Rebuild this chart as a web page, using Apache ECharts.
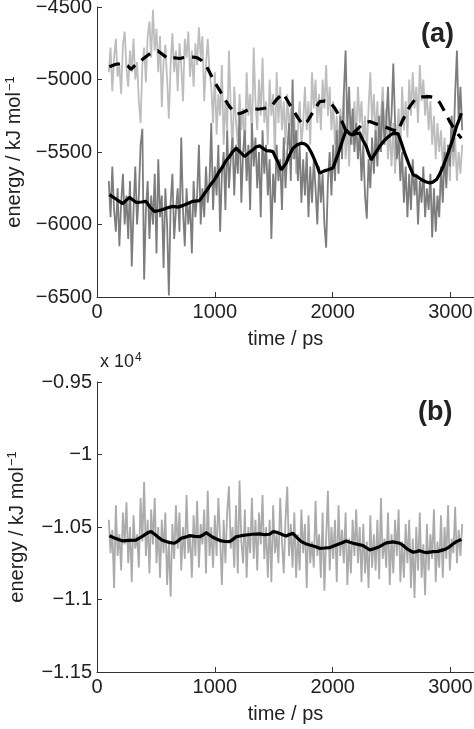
<!DOCTYPE html>
<html>
<head>
  <meta charset="utf-8">
  <title>energy vs time</title>
  <script src="https://cdn.jsdelivr.net/npm/echarts@6/dist/echarts.min.js"></script>
  <style>
    html, body { margin: 0; padding: 0; background: #fff; }
    #chart { width: 474px; height: 729px; }
  </style>
</head>
<body>
<div id="chart"></div>
<script type="text/javascript">
// sampling times of the raw traces (ps)
var rawTime = [100,115,130,145,160,175,190,205,220,235, 250,265,280,295,310,325,340,355,370,385,
  400,415,430,445,460,475,490,505,520,535, 550,565,580,595,610,625,640,655,670,685,
  700,715,730,745,760,775,790,805,820,835, 850,865,880,895,910,925,940,955,970,985, 1000,
  1015,1030,1045,1060,1075,1090,1105,1120,1135,1150, 1165,1180,1195,1210,1225,1240,1255,1270,1285,1300,
  1315,1330,1345,1360,1375,1390,1405,1420,1435,1450, 1465,1480,1495,1510,1525,1540,1555,1570,1585,1600,
  1615,1630,1645,1660,1675,1690,1705,1720,1735,1750, 1765,1780,1795,1810,1825,1840,1855,1870,1885,1900,
  1915,1930,1945,1960,1975,1990,2005,2020,2035,2050, 2065,2080,2095,2110,2125,2140,2155,2170,2185,2200,
  2215,2230,2245,2260,2275,2290,2305,2320,2335,2350, 2365,2380,2395,2410,2425,2440,2455,2470,2485,2500,
  2515,2530,2545,2560,2575,2590,2605,2620,2635,2650, 2665,2680,2695,2710,2725,2740,2755,2770,2785,2800,
  2815,2830,2845,2860,2875,2890,2905,2920,2935,2950, 2965,2980,2995,3010,3025,3040,3055,3070,3085,3100];

// panel (a) light grey trace
var lightA = [-4950,-4780,-5080,-4850,-4720,-4980,-4900,-5100,-4760,-4670, -4920,-5050,-4800,-4950,-4720,-5000,-4880,-5150,-5300,-4900,
  -4780,-5020,-4700,-4600,-4850,-4520,-4800,-4650,-4950,-4700, -5190,-4880,-4760,-5000,-5270,-4900,-4680,-4950,-4800,-5080,
  -4750,-4900,-5150,-4720,-4850,-4670,-4980,-4800,-5050,-4750, -4900,-4640,-4850,-4700,-5150,-4900,-4720,-4950,-5050,-5300, -4950,
  -5380,-5100,-5250,-4900,-5450,-5150,-5350,-4800,-5200,-5500, -5050,-5300,-5450,-5100,-5350,-5200,-5500,-4950,-5250,-5100,
  -5400,-4780,-5150,-5350,-5000,-5250,-4850,-5300,-5150,-5450, -5000,-5250,-5100,-5550,-4950,-5300,-5050,-5350,-5150,-5450,
  -5100,-5350,-5200,-5550,-5250,-5650,-5350,-5150,-5450,-5300, -5050,-5350,-5150,-5450,-4950,-5200,-5000,-5300,-5100,-5350,
  -5000,-5200,-4900,-5250,-5050,-5350,-5150,-5450,-5250,-5500, -5200,-5400,-5100,-5550,-5300,-5600,-5250,-5450,-5150,-5400,
  -5050,-5300,-5150,-5450,-5250,-5500,-5200,-4950,-5300,-5100, -5400,-5150,-5500,-5250,-5050,-5350,-5200,-5550,-5350,-5600,
  -5300,-5650,-5400,-5200,-5500,-5050,-5350,-5150,-5400,-5000, -5250,-4950,-5200,-5050,-5300,-4900,-5150,-5000,-5250,-5100,
  -5350,-5150,-5450,-5250,-5550,-5300,-5500,-5350,-5600,-5400, -5650,-5450,-5700,-5350,-5600,-5400,-5700,-5500,-5650,-5450];

// panel (a) dark grey trace
var darkA = [-5700,-5950,-5600,-5900,-6050,-5750,-6150,-5850,-5650,-6000, -5800,-6100,-5700,-6290,-5900,-5600,-6000,-5800,-5450,-5340,
  -6380,-5900,-5700,-6100,-5800,-6000,-5650,-6200,-5550,-5950, -5800,-6300,-5750,-6000,-6490,-5850,-5650,-6100,-5900,-5750,
  -6050,-5400,-5900,-6150,-5750,-6000,-5850,-6200,-5700,-5950, -5800,-5450,-6000,-5750,-5950,-5600,-5850,-5700,-5300,-5900, -5600,
  -5800,-5450,-6050,-5650,-5500,-5900,-5350,-5750,-5550,-5400, -5800,-5450,-5650,-5250,-5850,-5500,-5350,-5700,-5450,-5900,
  -5300,-5600,-5400,-5750,-5500,-5950,-5350,-5650,-5450,-5800, -5550,-6100,-5650,-5850,-5450,-5700,-5550,-5900,-5400,-5750,
  -5500,-5300,-5700,-5000,-5550,-5350,-5700,-5450,-5850,-5550, -5800,-5500,-5950,-5600,-5850,-5550,-5750,-6000,-5600,-5850,
  -5650,-6000,-6160,-5700,-5500,-5800,-5450,-5700,-5350,-5650, -5250,-5550,-5100,-4800,-5350,-5050,-5450,-5200,-5500,-5300,
  -5550,-5350,-5700,-5450,-5800,-5960,-5550,-5750,-5400,-5650, -5350,-5600,-5250,-5500,-5150,-5450,-5300,-5050,-5400,-5250,
  -4890,-5300,-5550,-5400,-5700,-5500,-5850,-5600,-5950,-5650, -5900,-5550,-5800,-5650,-6000,-5700,-5850,-5600,-5950,-5750,
  -5900,-5650,-6090,-5750,-6050,-5800,-5950,-5600,-5850,-5500, -5750,-5450,-5600,-5250,-5500,-5100,-4800,-5300,-5050,-5350];

// panel (a) running averages
var dashTime = [105,160,218,260,289,320,360,420,473,515,560,615,660,700,760,813,850,884,930,969,1000,1040,1080,1125,1181,1230,1280,1323,1365,1408,1450,1479,1521,1578,1620,1663,1710,1748,1785,1819,1855,1890,1930,1975,2020,2059,2090,2116,2145,2173,2215,2258,2315,2382,2458,2500,2555,2585,2620,2654,2711,2760,2824,2870,2910,2952,2994,3053,3093];
var dashA = [-4912,-4895,-4889,-4905,-4930,-4905,-4878,-4840,-4809,-4802,-4830,-4862,-4850,-4855,-4845,-4845,-4850,-4866,-4910,-4970,-5020,-5073,-5130,-5187,-5240,-5230,-5210,-5198,-5205,-5200,-5195,-5187,-5141,-5095,-5150,-5210,-5270,-5313,-5290,-5244,-5195,-5153,-5148,-5153,-5200,-5256,-5310,-5359,-5375,-5370,-5340,-5302,-5290,-5311,-5331,-5345,-5359,-5297,-5240,-5187,-5125,-5120,-5118,-5125,-5160,-5222,-5290,-5366,-5405];

var solidTime = [105,161,218,275,331,380,416,450,487,520,558,600,643,685,728,770,813,870,926,960,997,1030,1068,1095,1125,1150,1181,1215,1252,1290,1323,1350,1380,1410,1436,1465,1493,1530,1564,1606,1635,1663,1700,1734,1765,1790,1820,1847,1870,1890,1925,1960,2003,2030,2059,2088,2116,2145,2173,2200,2229,2258,2286,2310,2328,2350,2371,2405,2442,2480,2513,2555,2585,2612,2650,2683,2720,2754,2790,2824,2850,2881,2910,2938,2965,2994,3025,3051,3075,3093];
var solidA = [-5794,-5824,-5856,-5813,-5847,-5845,-5840,-5880,-5909,-5905,-5897,-5885,-5875,-5880,-5870,-5855,-5840,-5835,-5771,-5730,-5691,-5645,-5600,-5560,-5531,-5500,-5474,-5500,-5531,-5505,-5485,-5465,-5458,-5475,-5490,-5492,-5497,-5560,-5623,-5577,-5520,-5474,-5450,-5439,-5445,-5462,-5505,-5554,-5600,-5646,-5632,-5623,-5611,-5550,-5485,-5410,-5348,-5375,-5382,-5370,-5371,-5420,-5462,-5520,-5554,-5525,-5497,-5455,-5417,-5390,-5371,-5373,-5440,-5508,-5590,-5657,-5670,-5691,-5705,-5714,-5708,-5691,-5650,-5600,-5540,-5474,-5400,-5325,-5275,-5233];

// panel (b) trace, units of 10^4 kJ/mol
var greyB = [-1.045,-1.068,-1.052,-1.092,-1.035,-1.070,-1.055,-1.080,-1.040,-1.062, -1.033,-1.075,-1.050,-1.088,-1.042,-1.065,-1.055,-1.078,-1.030,-1.060,
  -1.019,-1.070,-1.045,-1.082,-1.038,-1.062,-1.030,-1.075,-1.050,-1.085, -1.045,-1.068,-1.040,-1.090,-1.060,-1.098,-1.048,-1.072,-1.035,-1.065,
  -1.040,-1.080,-1.050,-1.072,-1.028,-1.068,-1.055,-1.085,-1.042,-1.070, -1.032,-1.078,-1.048,-1.062,-1.038,-1.082,-1.025,-1.070,-1.050,-1.078, -1.042,
  -1.070,-1.030,-1.058,-1.090,-1.045,-1.075,-1.040,-1.022,-1.065,-1.050, -1.078,-1.035,-1.082,-1.018,-1.060,-1.075,-1.038,-1.085,-1.050,-1.068,
  -1.030,-1.072,-1.045,-1.080,-1.040,-1.062,-1.028,-1.072,-1.050,-1.085, -1.045,-1.088,-1.035,-1.068,-1.055,-1.075,-1.030,-1.060,-1.082,-1.045,
  -1.022,-1.070,-1.048,-1.078,-1.040,-1.085,-1.055,-1.080,-1.038,-1.068, -1.048,-1.092,-1.042,-1.075,-1.060,-1.078,-1.032,-1.070,-1.055,-1.085,
  -1.040,-1.094,-1.058,-1.025,-1.080,-1.050,-1.072,-1.045,-1.088,-1.035, -1.070,-1.052,-1.075,-1.040,-1.090,-1.058,-1.082,-1.045,-1.070,-1.038,
  -1.075,-1.050,-1.088,-1.048,-1.082,-1.060,-1.092,-1.042,-1.078,-1.055, -1.080,-1.045,-1.086,-1.030,-1.072,-1.058,-1.078,-1.040,-1.090,-1.055,
  -1.082,-1.045,-1.070,-1.038,-1.088,-1.060,-1.085,-1.048,-1.075,-1.045, -1.092,-1.058,-1.099,-1.050,-1.080,-1.040,-1.085,-1.062,-1.097,-1.048,
  -1.080,-1.055,-1.072,-1.038,-1.088,-1.060,-1.078,-1.042,-1.085,-1.050, -1.072,-1.035,-1.080,-1.058,-1.068,-1.036,-1.075,-1.052,-1.070,-1.048];

var avgTimeB = [105,160,218,275,331,388,430,459,490,515,550,586,620,657,690,714,750,785,830,870,900,926,955,983,1020,1054,1090,1125,1155,1181,1225,1266,1320,1380,1420,1465,1493,1520,1550,1580,1606,1635,1663,1700,1734,1770,1805,1850,1890,1930,1975,2031,2075,2116,2145,2173,2215,2258,2290,2315,2350,2386,2420,2456,2513,2569,2600,2626,2655,2683,2710,2739,2770,2796,2825,2853,2895,2938,2965,2994,3025,3051,3075,3093];
var avgB = [-1.056,-1.058,-1.0596,-1.0592,-1.059,-1.0563,-1.054,-1.0532,-1.055,-1.0567,-1.059,-1.06,-1.0608,-1.0612,-1.0595,-1.0578,-1.057,-1.056,-1.0565,-1.0567,-1.0555,-1.0539,-1.0555,-1.0571,-1.0585,-1.0596,-1.06,-1.0601,-1.0585,-1.0567,-1.056,-1.0555,-1.055,-1.0548,-1.0552,-1.055,-1.0532,-1.0535,-1.0544,-1.0555,-1.0562,-1.0552,-1.0544,-1.0575,-1.0601,-1.0615,-1.0624,-1.0635,-1.0647,-1.0645,-1.0642,-1.0624,-1.061,-1.0596,-1.0605,-1.0612,-1.062,-1.0628,-1.0645,-1.0658,-1.065,-1.064,-1.0625,-1.061,-1.0603,-1.0612,-1.0628,-1.0647,-1.0662,-1.0674,-1.067,-1.0663,-1.0672,-1.0677,-1.0673,-1.067,-1.0668,-1.0658,-1.065,-1.0635,-1.0615,-1.0601,-1.0592,-1.0585];

function pairs(xs, ys) {
  var out = [];
  for (var i = 0; i < xs.length; i++) out.push([xs[i], ys[i]]);
  return out;
}

function minus(v) {
  return String(v).replace('-', '\u2212');
}

var FONT = 'Liberation Sans';
var axisColor = '#333';
var textColor = '#222';

function xAxisFor(idx) {
  return {
    type: 'value', gridIndex: idx, min: 0, max: 3200, interval: 1000,
    name: 'time / ps', nameLocation: 'middle', nameGap: 32,
    nameTextStyle: { fontFamily: FONT, fontSize: 20, color: textColor },
    axisLine: { lineStyle: { color: axisColor, width: 1 } },
    axisTick: { inside: true, length: 5, lineStyle: { color: axisColor } },
    axisLabel: { fontFamily: FONT, fontSize: 20, color: textColor, margin: 5,
      formatter: function (v) { return v % 1000 === 0 ? String(v) : ''; } },
    splitLine: { show: false }
  };
}

function yAxisFor(idx, min, max, interval) {
  return {
    type: 'value', gridIndex: idx, min: min, max: max, interval: interval,
    name: 'energy / kJ mol{sup|\u22121}', nameLocation: 'middle', nameGap: 68,
    nameTextStyle: { fontFamily: FONT, fontSize: 20, color: textColor,
      rich: { sup: { fontFamily: FONT, fontSize: 13, color: textColor, verticalAlign: 'top', padding: [0, 0, 10, 1] } } },
    axisLine: { show: true, lineStyle: { color: axisColor, width: 1 } },
    axisTick: { show: true, inside: true, length: 5, lineStyle: { color: axisColor } },
    axisLabel: { fontFamily: FONT, fontSize: 20, color: textColor, margin: 5, formatter: minus },
    splitLine: { show: false }
  };
}

var chart = echarts.init(document.getElementById('chart'));
var option = {
  animation: false,
  backgroundColor: '#fff',
  grid: [
    { left: 97, top: 7, width: 377, height: 290, containLabel: false, outerBoundsMode: 'none' },
    { left: 97, top: 382, width: 377, height: 290, containLabel: false, outerBoundsMode: 'none' }
  ],
  xAxis: [xAxisFor(0), xAxisFor(1)],
  yAxis: [yAxisFor(0, -6500, -4500, 500), yAxisFor(1, -1.15, -0.95, 0.05)],
  graphic: [
    { type: 'text', left: 421, top: 21, style: { text: '(a)', fontFamily: FONT, fontSize: 27, fontWeight: 'bold', fill: textColor } },
    { type: 'text', left: 418, top: 399, style: { text: '(b)', fontFamily: FONT, fontSize: 27, fontWeight: 'bold', fill: textColor } },
    { type: 'text', left: 100, top: 352, style: { text: 'x 10{sup|4}', fontFamily: FONT, fontSize: 18, fill: textColor,
      rich: { sup: { fontFamily: FONT, fontSize: 12, fill: textColor, verticalAlign: 'top', padding: [0, 0, 8, 1] } } } }
  ],
  series: [
    { type: 'line', xAxisIndex: 0, yAxisIndex: 0, data: pairs(rawTime, lightA), showSymbol: false,
      lineStyle: { color: '#bdbdbd', width: 1.8 }, z: 1 },
    { type: 'line', xAxisIndex: 0, yAxisIndex: 0, data: pairs(rawTime, darkA), showSymbol: false,
      lineStyle: { color: '#7d7d7d', width: 1.8 }, z: 2 },
    { type: 'line', xAxisIndex: 0, yAxisIndex: 0, data: pairs(dashTime, dashA), showSymbol: false,
      lineStyle: { color: '#000', width: 3.2, type: [11, 8] }, z: 3 },
    { type: 'line', xAxisIndex: 0, yAxisIndex: 0, data: pairs(solidTime, solidA), showSymbol: false,
      lineStyle: { color: '#000', width: 3.2 }, z: 4 },
    { type: 'line', xAxisIndex: 1, yAxisIndex: 1, data: pairs(rawTime, greyB), showSymbol: false,
      lineStyle: { color: '#ababab', width: 1.8 }, z: 1 },
    { type: 'line', xAxisIndex: 1, yAxisIndex: 1, data: pairs(avgTimeB, avgB), showSymbol: false,
      lineStyle: { color: '#000', width: 3.2 }, z: 3 }
  ]
};
chart.setOption(option);
</script>
</body>
</html>
